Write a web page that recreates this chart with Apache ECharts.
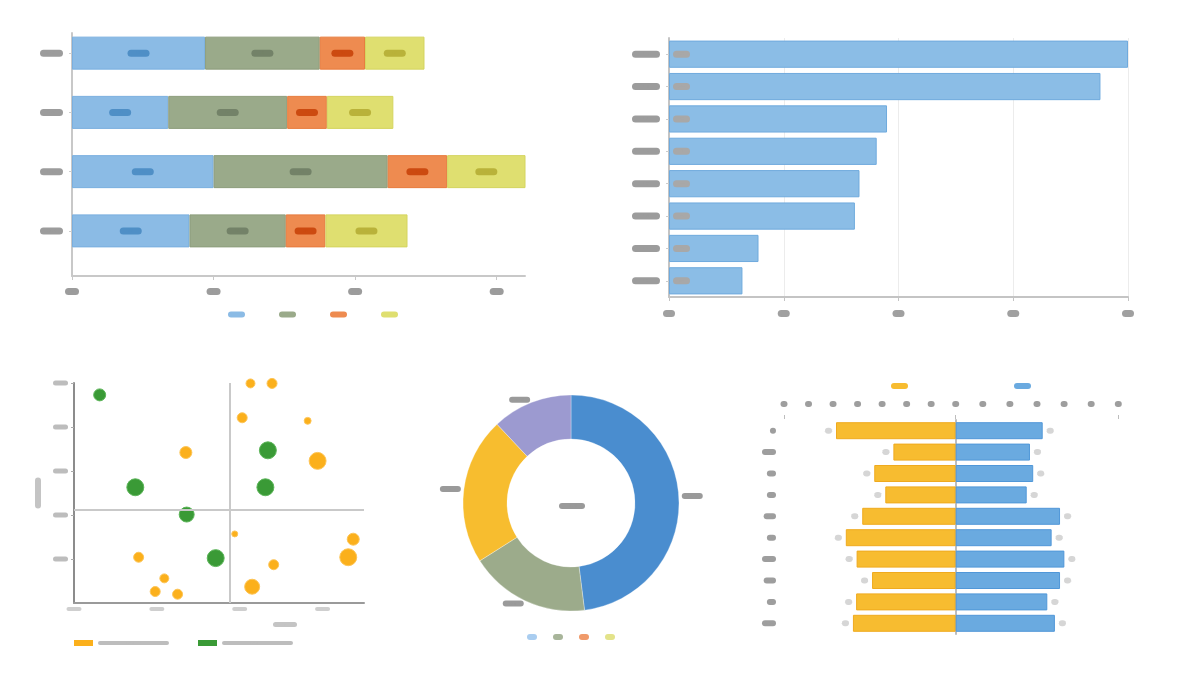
<!DOCTYPE html>
<html>
<head>
<meta charset="utf-8">
<script src="https://cdn.jsdelivr.net/npm/echarts@6/dist/echarts.min.js"></script>
<style>
  html, body { margin: 0; padding: 0; background: #fff; }
  #main { width: 1200px; height: 677px; }
</style>
</head>
<body>
<div id="main"></div>
<script>
// ---- stacked bars (top left)
const stackCats = ['North', 'South', 'East', 'West'];
const stackNames = ['Alpha', 'Beta', 'Gamma', 'Delta'];
const stackAlpha = [94, 68, 100, 83];
const stackBeta = [81, 84, 123, 68];
const stackGamma = [32, 28, 42, 28];
const stackDelta = [42, 47, 56, 58];
const stackTicks = [0, 100, 200, 300];

// ---- ranking bars (top right)
const rankCats = ['R1', 'R2', 'R3', 'R4', 'R5', 'R6', 'R7', 'R8'];
const rankValues = [400, 376, 190, 181, 166, 162, 78, 64];

// ---- bubbles (bottom left): [x, y, weight]
const bubbleOrange = [
  [213, 499, 20], [239, 499, 25], [203, 421, 25], [282, 414, 12],
  [135, 342, 36], [294, 323, 72], [194, 157, 9], [337, 145, 36],
  [331, 104, 72], [78, 104, 25], [241, 87, 25], [109, 56, 20],
  [98, 26, 25], [125, 20, 25], [215, 37, 56]
];
const bubbleGreen = [
  [31, 473, 36], [74, 263, 72], [136, 201, 56],
  [171, 102, 72], [234, 347, 72], [231, 263, 72]
];
const bubbleNames = ['Group A', 'Group B'];
const bubbleTicksX = [0, 100, 200, 300];
const quadrantX = 188;
const quadrantY = 212;

// ---- donut (bottom middle)
const donutNames = ['Web', 'Store', 'Phone', 'Mail'];
const donutValues = [48, 18, 22, 12];

// ---- pyramid (bottom right)
const pyramidCats = ['0', '1-14', '15', '20', '25+', '30', '1-44', '45+', '50', '5-64'];
const pyramidNames = ['Female', 'Male'];
const pyramidLeft = [48.8, 25.4, 33.2, 28.7, 38.1, 44.8, 40.4, 34.1, 40.6, 41.9];
const pyramidRight = [32.1, 27.4, 28.6, 26.2, 38.5, 35.4, 40.1, 38.5, 33.8, 36.6];

// gray placeholder pill for text
function pill(w, h, c) {
  return {
    width: w, height: h, lineHeight: h, backgroundColor: c, borderRadius: h / 2,
    color: c, fontSize: 4, align: 'center', verticalAlign: 'middle', padding: 0
  };
}
const pf = v => '{p|' + v + '}';
// stadium shaped legend icons
const pillIcon = 'path://M3,0H14A3,3 0 0 1 14,6H3A3,3 0 0 1 3,0Z';
const shortPillIcon = 'path://M3,0H7A3,3 0 0 1 7,6H3A3,3 0 0 1 3,0Z';

let chart = echarts.init(document.getElementById('main'), null, { renderer: 'canvas' });

const stackColors = ['#8bbbe5', '#9aaa8a', '#ee8b50', '#dfdf70'];
const stackBorders = ['#7aafdf', '#8c9d7c', '#e77b3d', '#d4d45e'];
const stackLabelColors = ['#4f8fc6', '#738268', '#cc4a10', '#b9b23a'];
const stackData = [stackAlpha, stackBeta, stackGamma, stackDelta];

const donutColors = ['#4a8dcf', '#9cab8b', '#f7bd2f', '#9c9ad0'];
const donutLegendColors = ['#a9cdf0', '#a8b59a', '#f09a6a', '#e3e38a'];

let stackSeries = stackNames.map((name, i) => ({
  name: name,
  type: 'bar',
  stack: 'total',
  xAxisIndex: 0,
  yAxisIndex: 0,
  barWidth: 33,
  data: stackData[i],
  itemStyle: { color: stackColors[i], borderColor: stackBorders[i], borderWidth: 1 },
  label: {
    show: true,
    position: 'inside',
    formatter: p => pf(p.value),
    rich: { p: pill(22, 7, stackLabelColors[i]) }
  }
}));

const legendBase = { padding: 0, selectedMode: false, itemStyle: { borderWidth: 0 } };

let option = {
  animation: false,
  backgroundColor: '#fff',
  title: {
    text: pf('Total'),
    left: 572,
    top: 506,
    padding: 0,
    textAlign: 'center',
    textVerticalAlign: 'middle',
    textStyle: { rich: { p: pill(26, 6, '#9a9a9a') } }
  },
  legend: [
    Object.assign({}, legendBase, {
      data: stackNames,
      left: 228, top: 311,
      icon: pillIcon, itemWidth: 17, itemHeight: 7, itemGap: 34,
      formatter: () => ''
    }),
    Object.assign({}, legendBase, {
      data: bubbleNames,
      left: 74, top: 640,
      icon: 'rect', itemWidth: 19, itemHeight: 6, itemGap: 29,
      formatter: n => pf(n),
      textStyle: { rich: { p: pill(71, 4, '#bdbdbd') } }
    }),
    Object.assign({}, legendBase, {
      data: donutNames.map((n, i) => ({ name: n, itemStyle: { color: donutLegendColors[i] } })),
      left: 527, top: 634,
      icon: shortPillIcon, itemWidth: 10, itemHeight: 6, itemGap: 16,
      formatter: () => ''
    }),
    Object.assign({}, legendBase, {
      data: pyramidNames,
      left: 891, top: 383,
      icon: pillIcon, itemWidth: 17, itemHeight: 6, itemGap: 106,
      formatter: () => ''
    })
  ],
  grid: [
    { left: 72, top: 23.5, width: 453, height: 237, outerBoundsMode: 'none' },
    { left: 72, top: 33, width: 453, height: 243, outerBoundsMode: 'none' },
    { left: 669, top: 38, width: 459, height: 259, outerBoundsMode: 'none' },
    { left: 74, top: 383, width: 290, height: 220, outerBoundsMode: 'none' },
    { left: 784, top: 420, width: 171.7, height: 214, outerBoundsMode: 'none' },
    { left: 955.7, top: 420, width: 162.6, height: 214, outerBoundsMode: 'none' }
  ],
  xAxis: [
    { gridIndex: 0, type: 'value', min: 0, max: 320, show: false },
    {
      gridIndex: 1, type: 'value', min: 0, max: 320,
      axisLine: { lineStyle: { color: '#c8c8c8', width: 2 } },
      axisTick: { show: true, customValues: stackTicks, length: 4, lineStyle: { color: '#c8c8c8' } },
      axisLabel: { customValues: stackTicks, margin: 12, formatter: pf, rich: { p: pill(14, 7, '#9c9c9c') } },
      splitLine: { show: false }
    },
    {
      gridIndex: 2, type: 'value', min: 0, max: 400, interval: 100,
      axisLine: { show: true, lineStyle: { color: '#c4c4c4', width: 2 } },
      axisTick: { show: true, length: 4, lineStyle: { color: '#c4c4c4' } },
      axisLabel: { margin: 13, formatter: pf, rich: { p: pill(12, 7, '#a0a0a0') } },
      splitLine: { show: true, lineStyle: { color: '#ececec' } }
    },
    {
      gridIndex: 3, type: 'value', min: 0, max: 350,
      axisLine: { lineStyle: { color: '#9a9a9a', width: 2 } },
      axisTick: { show: false },
      axisLabel: { customValues: bubbleTicksX, margin: 4, formatter: pf, rich: { p: pill(15, 4, '#cfcfcf') } },
      splitLine: { show: false },
      name: '{s|x}{p|x}',
      nameLocation: 'middle',
      nameGap: 19,
      nameTextStyle: {
        rich: {
          s: { width: 132, height: 5, color: 'rgba(0,0,0,0)', fontSize: 4 },
          p: pill(24, 5, '#c4c4c4')
        }
      }
    },
    {
      gridIndex: 4, type: 'value', min: 0, max: 70, interval: 10,
      position: 'top', inverse: true, offset: 5,
      axisLine: { lineStyle: { color: '#bdbdbd', width: 2 } },
      axisTick: { show: true, customValues: [0, 70], inside: true, length: 4, lineStyle: { color: '#bdbdbd' } },
      axisLabel: { margin: 8, formatter: pf, rich: { p: pill(7, 6, '#9e9e9e') } },
      splitLine: { show: false }
    },
    {
      gridIndex: 5, type: 'value', min: 0, max: 60, interval: 10,
      position: 'top', offset: 5,
      axisLine: { lineStyle: { color: '#bdbdbd', width: 2 } },
      axisTick: { show: true, customValues: [60], inside: true, length: 4, lineStyle: { color: '#bdbdbd' } },
      axisLabel: { margin: 8, showMinLabel: false, formatter: pf, rich: { p: pill(7, 6, '#9e9e9e') } },
      splitLine: { show: false }
    }
  ],
  yAxis: [
    {
      gridIndex: 0, type: 'category', data: stackCats, inverse: true,
      axisLine: { show: false },
      axisTick: { show: true, alignWithLabel: true, length: 3, lineStyle: { color: '#cccccc' } },
      axisLabel: { margin: 9, formatter: pf, rich: { p: pill(23, 7, '#9c9c9c') } }
    },
    {
      gridIndex: 1, type: 'value',
      axisLine: { show: true, lineStyle: { color: '#c8c8c8', width: 2 } },
      axisTick: { show: false }, axisLabel: { show: false }, splitLine: { show: false }
    },
    {
      gridIndex: 2, type: 'category', data: rankCats, inverse: true,
      axisLine: { lineStyle: { color: '#c4c4c4', width: 2 } },
      axisTick: { show: true, alignWithLabel: true, length: 3, lineStyle: { color: '#cccccc' } },
      axisLabel: { margin: 9, formatter: pf, rich: { p: pill(28, 7, '#9c9c9c') } }
    },
    {
      gridIndex: 3, type: 'value', min: 0, max: 500, interval: 100,
      axisLine: { show: true, lineStyle: { color: '#8c8c8c', width: 2 } },
      axisTick: { show: true, length: 3, lineStyle: { color: '#aaaaaa' } },
      axisLabel: { margin: 6, showMinLabel: false, formatter: pf, rich: { p: pill(15, 5, '#bdbdbd') } },
      splitLine: { show: false },
      name: '{p|y}',
      nameLocation: 'middle',
      nameGap: 33,
      nameRotate: 90,
      nameTextStyle: { rich: { p: pill(31, 6, '#c4c4c4') } }
    },
    {
      gridIndex: 4, type: 'category', data: pyramidCats, inverse: true,
      axisLine: { show: true, lineStyle: { color: '#bdbdbd', width: 2 } },
      axisTick: { show: false },
      axisLabel: {
        margin: 8,
        formatter: pf,
        rich: {
          p: {
            backgroundColor: '#9e9e9e', color: '#9e9e9e', borderRadius: 3,
            fontSize: 5.5, height: 6, lineHeight: 6, padding: [0, 1.5]
          }
        }
      }
    },
    { gridIndex: 5, type: 'category', data: pyramidCats, inverse: true, show: false }
  ],
  series: stackSeries.concat([
    {
      name: 'Ranking',
      type: 'bar',
      xAxisIndex: 2, yAxisIndex: 2,
      data: rankValues,
      barCategoryGap: '16%',
      itemStyle: { color: '#8bbde6', borderColor: '#6faadd', borderWidth: 1 },
      label: {
        show: true, position: 'insideLeft', distance: 4,
        formatter: p => pf(p.value),
        rich: { p: pill(17, 7, '#a8a8a8') }
      }
    },
    {
      name: bubbleNames[0],
      type: 'scatter',
      xAxisIndex: 3, yAxisIndex: 3,
      data: bubbleOrange,
      symbolSize: d => Math.sqrt(d[2]) * 2,
      itemStyle: { color: '#fbb01c', borderColor: '#fdc557', borderWidth: 1, opacity: 1 },
      z: 3,
      markLine: {
        silent: true,
        symbol: ['none', 'none'],
        label: { show: false },
        lineStyle: { color: '#c9c9c9', width: 2, type: 'solid' },
        data: [{ xAxis: quadrantX }, { yAxis: quadrantY }]
      }
    },
    {
      name: bubbleNames[1],
      type: 'scatter',
      xAxisIndex: 3, yAxisIndex: 3,
      data: bubbleGreen,
      symbolSize: d => Math.sqrt(d[2]) * 2,
      itemStyle: { color: '#3a9a36', borderColor: '#5cb559', borderWidth: 1, opacity: 1 },
      z: 3
    },
    {
      name: 'Share',
      type: 'pie',
      center: [571, 503],
      radius: [64, 108],
      startAngle: 90,
      avoidLabelOverlap: false,
      data: donutNames.map((n, i) => ({ name: n, value: donutValues[i], itemStyle: { color: donutColors[i] } })),
      label: {
        show: true,
        position: 'outside',
        distanceToLabelLine: 0,
        formatter: p => pf(p.name),
        rich: { p: pill(21, 6, '#9a9a9a') }
      },
      labelLine: { show: false, length: 3, length2: 0 },
      itemStyle: { borderColor: 'rgba(255,255,255,0.6)', borderWidth: 0.5 }
    },
    {
      name: pyramidNames[0],
      type: 'bar',
      xAxisIndex: 4, yAxisIndex: 4,
      data: pyramidLeft,
      barWidth: 17,
      itemStyle: { color: '#f7bc30', borderColor: '#efaa1f', borderWidth: 1 },
      label: {
        show: true, position: 'left', distance: 4,
        formatter: p => pf(p.value),
        rich: { p: pill(7, 6, '#d6d6d6') }
      }
    },
    {
      name: pyramidNames[1],
      type: 'bar',
      xAxisIndex: 5, yAxisIndex: 5,
      data: pyramidRight,
      barWidth: 17,
      itemStyle: { color: '#6aaae0', borderColor: '#5097d8', borderWidth: 1 },
      label: {
        show: true, position: 'right', distance: 4,
        formatter: p => pf(p.value),
        rich: { p: pill(7, 6, '#d6d6d6') }
      }
    }
  ])
};

chart.setOption(option);
</script>
</body>
</html>
